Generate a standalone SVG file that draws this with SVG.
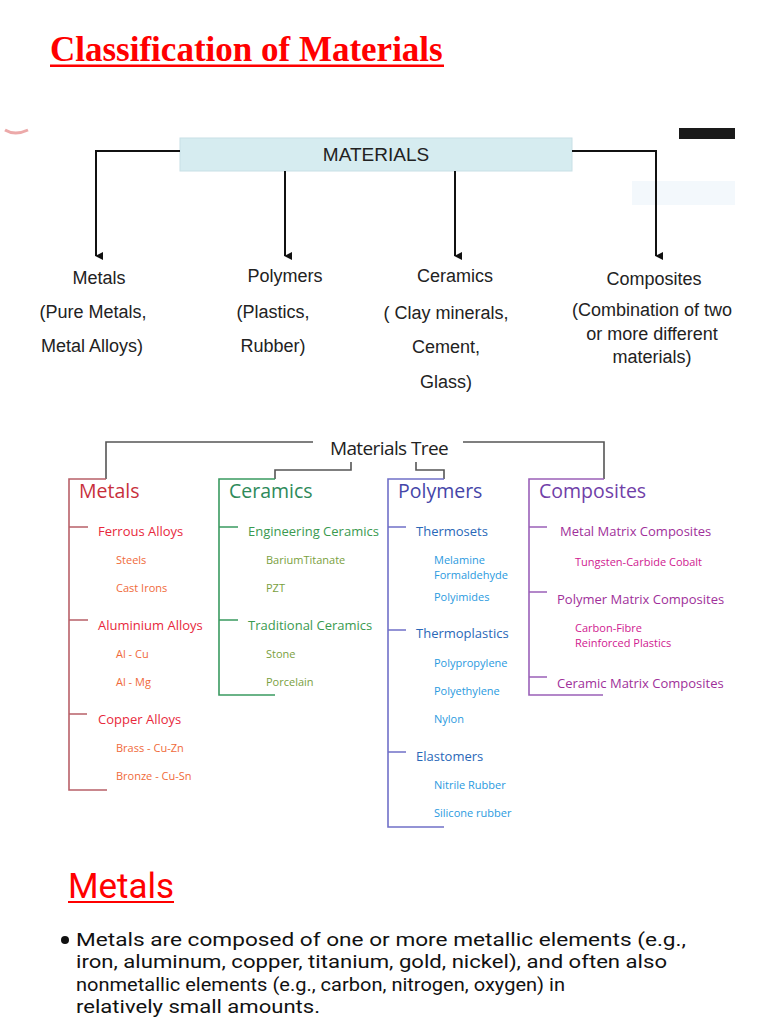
<svg xmlns="http://www.w3.org/2000/svg" width="768" height="1024" viewBox="0 0 768 1024">
<defs>
<style>
.top{font-family:"Liberation Sans",Arial,sans-serif;font-size:18px;fill:#222;text-anchor:middle}
.conn{stroke:#111;stroke-width:2;fill:none}
.gray{stroke:#555;stroke-width:1.6;fill:none}
.t{font-family:"Open Sans","Liberation Sans",sans-serif}
.h{font-size:19.5px}
.s{font-size:13px}
.i{font-size:11px}
.mh{fill:#c8303c}.ms{fill:#e8283c}.mi{fill:#f06a3a}
.ch{fill:#2e8a5a}.cs{fill:#3a9a50}.ci{fill:#7aa040}
.ph{fill:#4545a8}.ps{fill:#2a68b8}.pi{fill:#2a9ae0}
.kh{fill:#7040a8}.ks{fill:#a0309a}.ki{fill:#d02090}
.ml{stroke:#b86068;stroke-width:1.6;fill:none}
.cl{stroke:#3a9a60;stroke-width:1.6;fill:none}
.pl{stroke:#7070c8;stroke-width:1.6;fill:none}
.kl{stroke:#9a60b8;stroke-width:1.6;fill:none}
.body{font-family:Roboto,"Liberation Sans",sans-serif;font-size:19px;fill:#111}
</style>
<marker id="arr" viewBox="0 0 10 10" refX="5" refY="9" markerWidth="8" markerHeight="8" orient="auto" markerUnits="userSpaceOnUse">
<path d="M0,0 L10,0 L5,10 Z" fill="#111"/>
</marker>
</defs>
<rect width="768" height="1024" fill="#fff"/>

<g id="title">
<text x="50" y="61" font-family="Liberation Serif,serif" font-weight="bold" font-size="35" fill="#ff0000">Classification of Materials</text>
<rect x="50" y="64.5" width="394" height="2.5" fill="#ff0000"/>
</g>

<g id="artifacts">
<rect x="679" y="128" width="56" height="11" fill="#1a1a1a"/>
<rect x="632" y="181" width="103" height="24" fill="#f3f8fc"/>
<path d="M5,130 Q15,136 28,130" stroke="#e07070" stroke-width="3" fill="none" opacity="0.6"/>
</g>

<g id="materials">
<rect x="180" y="138" width="392" height="33" fill="#d6ecf0" stroke="#c8e0e6" stroke-width="1"/>
<text x="376" y="161" font-family="Liberation Sans,Arial,sans-serif" font-size="19" fill="#222" text-anchor="middle">MATERIALS</text>
</g>

<g id="connectors">
<path class="conn" d="M180,151 H96 V256" marker-end="url(#arr)"/>
<path class="conn" d="M285,171 V256" marker-end="url(#arr)"/>
<path class="conn" d="M455,171 V256" marker-end="url(#arr)"/>
<path class="conn" d="M572,151 H656 V256" marker-end="url(#arr)"/>
<path class="gray" d="M313,442 H106 V479"/>
<path class="gray" d="M351,462 V470 H275 V479"/>
<path class="gray" d="M416,462 V470 H444 V479"/>
<path class="gray" d="M463,442 H604 V479"/>
</g>

<g id="metals">
<text class="top" x="99" y="284">Metals</text>
<text class="top" x="93" y="318">(Pure Metals,</text>
<text class="top" x="92" y="352">Metal Alloys)</text>
</g>
<g id="polymers">
<text class="top" x="285" y="282">Polymers</text>
<text class="top" x="273" y="318">(Plastics,</text>
<text class="top" x="273" y="352">Rubber)</text>
</g>
<g id="ceramics">
<text class="top" x="455" y="282">Ceramics</text>
<text class="top" x="446" y="319">( Clay minerals,</text>
<text class="top" x="446" y="353">Cement,</text>
<text class="top" x="446" y="388">Glass)</text>
</g>
<g id="composites">
<text class="top" x="654" y="285">Composites</text>
<text class="top" x="652" y="316">(Combination of two</text>
<text class="top" x="652" y="340">or more different</text>
<text class="top" x="652" y="363">materials)</text>
</g>

<g id="materials-tree">
<text class="t" x="389" y="455" font-size="19" fill="#222" text-anchor="middle" letter-spacing="-0.6">Materials Tree</text>
</g>

<g id="tree-metals">
<path class="ml" d="M106,479 H69 V790 H107 M69,527 H88 M69,620 H88 M69,714 H87"/>
<text class="t h mh" x="79" y="498">Metals</text>
<text class="t s ms" x="98" y="536">Ferrous Alloys</text>
<text class="t i mi" x="116" y="564">Steels</text>
<text class="t i mi" x="116" y="592">Cast Irons</text>
<text class="t s ms" x="98" y="630">Aluminium Alloys</text>
<text class="t i mi" x="116" y="658">Al - Cu</text>
<text class="t i mi" x="116" y="686">Al - Mg</text>
<text class="t s ms" x="98" y="724">Copper Alloys</text>
<text class="t i mi" x="116" y="752">Brass - Cu-Zn</text>
<text class="t i mi" x="116" y="780">Bronze - Cu-Sn</text>
</g>

<g id="tree-ceramics">
<path class="cl" d="M275,479 H219 V695 H275 M219,527 H238 M219,620 H238"/>
<text class="t h ch" x="229" y="498">Ceramics</text>
<text class="t s cs" x="248" y="536">Engineering Ceramics</text>
<text class="t i ci" x="266" y="564">BariumTitanate</text>
<text class="t i ci" x="266" y="592">PZT</text>
<text class="t s cs" x="248" y="630">Traditional Ceramics</text>
<text class="t i ci" x="266" y="658">Stone</text>
<text class="t i ci" x="266" y="686">Porcelain</text>
</g>

<g id="tree-polymers">
<path class="pl" d="M444,479 H388 V827 H444 M388,527 H406 M388,630 H406 M388,752 H406"/>
<text class="t h ph" x="398" y="498">Polymers</text>
<text class="t s ps" x="416" y="536">Thermosets</text>
<text class="t i pi" x="434" y="564">Melamine</text>
<text class="t i pi" x="434" y="579">Formaldehyde</text>
<text class="t i pi" x="434" y="601">Polyimides</text>
<text class="t s ps" x="416" y="638">Thermoplastics</text>
<text class="t i pi" x="434" y="667">Polypropylene</text>
<text class="t i pi" x="434" y="695">Polyethylene</text>
<text class="t i pi" x="434" y="723">Nylon</text>
<text class="t s ps" x="416" y="761">Elastomers</text>
<text class="t i pi" x="434" y="789">Nitrile Rubber</text>
<text class="t i pi" x="434" y="817">Silicone rubber</text>
</g>

<g id="tree-composites">
<path class="kl" d="M604,479 H529 V695 H603 M529,527 H547 M529,592 H547 M529,677 H547"/>
<text class="t h kh" x="539" y="498">Composites</text>
<text class="t s ks" x="560" y="536">Metal Matrix Composites</text>
<text class="t i ki" x="575" y="566">Tungsten-Carbide Cobalt</text>
<text class="t s ks" x="557" y="604">Polymer Matrix Composites</text>
<text class="t i ki" x="575" y="632">Carbon-Fibre</text>
<text class="t i ki" x="575" y="647">Reinforced Plastics</text>
<text class="t s ks" x="557" y="688">Ceramic Matrix Composites</text>
</g>

<g id="metals-section">
<text x="68" y="898" font-family="Roboto,Liberation Sans,sans-serif" font-size="35" fill="#ff0000">Metals</text>
<rect x="68" y="901" width="106" height="2" fill="#ff0000"/>
<circle cx="65" cy="940" r="4" fill="#111"/>
<text class="body" x="76" y="946" textLength="610" lengthAdjust="spacingAndGlyphs">Metals are composed of one or more metallic elements (e.g.,</text>
<text class="body" x="76" y="968" textLength="591" lengthAdjust="spacingAndGlyphs">iron, aluminum, copper, titanium, gold, nickel), and often also</text>
<text class="body" x="76" y="991" textLength="489" lengthAdjust="spacingAndGlyphs">nonmetallic elements (e.g., carbon, nitrogen, oxygen) in</text>
<text class="body" x="76" y="1013" textLength="244" lengthAdjust="spacingAndGlyphs">relatively small amounts.</text>
</g>
</svg>
